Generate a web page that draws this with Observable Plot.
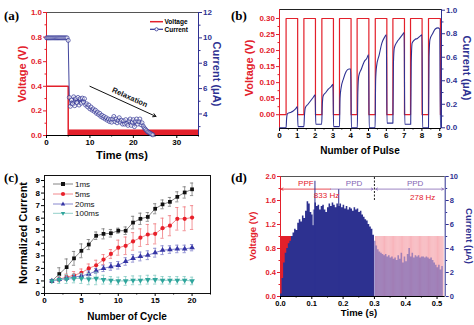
<!DOCTYPE html>
<html><head><meta charset="utf-8">
<script src="https://cdn.jsdelivr.net/npm/d3@7"></script>
<script src="https://cdn.jsdelivr.net/npm/@observablehq/plot@0.6"></script>
<style>
body{margin:0;background:#fff;}
#root{position:relative;width:474px;height:325px;overflow:hidden;background:#fff;font-family:"Liberation Sans",Arial,sans-serif;}
.lbl{position:absolute;font-family:"Liberation Serif","Times New Roman",serif;font-weight:bold;font-size:13px;transform:translate(0,-50%);}
.ttl{position:absolute;font-weight:bold;font-size:11px;white-space:nowrap;transform:translate(-50%,-50%);}
.sm{font-size:10px;}
.xs{font-size:9.5px;}
.rotL{transform:translate(-50%,-50%) rotate(-90deg);}
.rotR{transform:translate(-50%,-50%) rotate(90deg);}
svg.p{position:absolute;}
</style></head><body><div id="root"></div>
<script>
// ---------------- DATA ----------------
// (a)
const aVoltTime = [0, 5, 5];
const aVolt = [0.4, 0.4, 0];
const aReadWindow = [5.1, 35];
const aReadLevel = 0.045;
const aCurrentPre = [10,10,10,10,10,10,10,10,10,10,10,10,10,10,10,10,10,10,10,10,9.8]; // t = 0..5 step 0.25
const aCurrentPost = [5.3,4.6,5.1,4.8,5.35,4.65,5.2,4.9,5.3,4.7,5.2,4.85,5.25,4.95,5.2,4.7,
  4.8,4.55,4.7,4.4,4.55,4.3,4.4,4.2,4.3,4.05,4.15,3.95,4.05,3.8,3.9,3.7,3.8,3.6,3.7,3.5,
  3.6,3.4,3.55,3.35,3.6,3.8,3.4,3.6,3.3,3.5,3.7,3.35,3.5,3.2,3.45,3.2,3.55,3.25,3.1,3.45,
  3.6,3.1,3.35,3.55,3.0,3.4,3.6,3.2,3.4,3.6,3.15,3.3,3.05,2.9,2.8,2.7,2.6,2.55,2.5,2.45,2.4,2.35]; // t = 5.25.. step 0.25
const aSampleStep = 0.25;
const aRelax = {t1: 10, v1: 0.40, t2: 25.2, v2: 0.155, tt: 19.2, vt: 0.31, label: "Relaxation"};

// (b)
const bPulseOn  = [0.37,1.37,2.38,3.37,4.36,5.38,6.37,7.36,8.37];
const bPulseOff = [1.02,2.02,3.03,4.02,5.02,6.03,7.02,8.01,9.04];
const bPulseV = 0.3;
const bOffsets = [0.37,0.40,0.45,0.6,0.75,0.9,1.0,1.04];
const bPulseCurrent = [
  [0.00,0.08,0.12,0.13,0.14,0.16,0.18,0.01],
  [0.01,0.10,0.17,0.20,0.23,0.26,0.28,0.03],
  [0.03,0.18,0.27,0.30,0.33,0.35,0.37,0.01],
  [0.01,0.25,0.33,0.42,0.48,0.50,0.50,0.00],
  [0.00,0.30,0.44,0.50,0.56,0.59,0.62,0.00],
  [0.00,0.40,0.52,0.62,0.72,0.77,0.79,0.04],
  [0.04,0.55,0.68,0.73,0.76,0.79,0.81,0.03],
  [0.03,0.55,0.72,0.75,0.76,0.78,0.79,0.00],
  [0.00,0.60,0.75,0.80,0.84,0.85,0.84,0.00]];

// (c)
const cycles = [1,2,3,4,5,6,7,8,9,10,11,12,13,14,15,16,17,18,19,20];
const c1ms   = [1.0,1.55,2.1,2.8,3.4,3.9,4.6,4.75,4.8,5.0,5.0,5.65,5.95,6.1,6.75,7.1,7.3,7.7,8.05,8.3];
const c1msE  = [0,0.5,0.65,0.55,0.55,0.4,0.3,0.4,0.3,0.2,0.3,0.5,0.45,0.35,0.4,0.35,0.35,0.4,0.45,0.5];
const c5ms   = [1.0,1.15,1.3,1.45,1.65,2.0,2.25,2.7,3.15,3.65,3.8,4.15,4.45,4.7,4.75,5.2,5.4,5.95,5.95,6.05];
const c5msE  = [0,0.2,0.25,0.3,0.3,0.35,0.4,0.4,0.35,0.6,0.7,0.7,0.7,0.8,0.8,0.8,0.8,0.9,0.95,0.95];
const c20ms  = [1.0,1.12,1.2,1.3,1.4,1.55,1.8,2.0,2.15,2.25,2.55,2.8,2.95,3.05,3.25,3.45,3.5,3.55,3.55,3.65];
const c20msE = [0,0.1,0.15,0.2,0.2,0.25,0.2,0.25,0.3,0.3,0.3,0.3,0.35,0.35,0.35,0.35,0.3,0.3,0.3,0.25];
const c100ms = [1.0,1.1,1.15,1.2,1.2,1.15,1.2,1.1,1.05,1.0,1.0,1.05,1.05,1.1,1.1,1.05,1.05,1.05,1.05,1.0];
const c100msE= [0,0.3,0.35,0.35,0.4,0.45,0.5,0.35,0.3,0.3,0.35,0.35,0.35,0.35,0.35,0.3,0.3,0.3,0.3,0.3];
const cNames = ["1ms","5ms","20ms","100ms"];

// (d)
const dEnvStep = 0.005; // dense PPF/PPD train envelope, t = 0 .. 0.30
const dEnvCurrent = [0.2,1.5,2.8,3.6,4.0,4.4,4.6,5.0,5.3,5.6,5.5,6.1,6.4,6.2,6.7,6.5,7.1,7.9,7.7,7.0,
  6.8,7.2,7.8,7.5,7.6,7.2,7.5,7.6,7.2,7.0,7.4,7.7,7.5,7.8,7.6,7.4,7.7,7.5,7.7,7.4,
  7.6,7.3,7.5,7.2,7.4,7.3,7.1,7.4,7.2,7.3,7.0,7.1,6.8,6.6,6.4,6.3,6.0,5.8,5.6,5.1,4.0];
const dSlowStart = 0.300; // 278 Hz train envelope, t = 0.300 .. 0.520
const dSlowCurrent = [4.6,4.2,3.9,3.7,3.6,3.5,3.4,3.5,3.3,3.4,3.2,3.3,3.1,3.2,3.0,3.4,3.1,3.6,2.8,3.3,
  2.9,3.5,4.0,3.3,3.6,3.2,3.4,3.3,3.4,3.2,3.3,3.3,3.2,3.3,3.2,3.1,3.2,3.0,2.8,2.6,2.4,2.6,2.2,2.5,2.3];
const dFastEnd = 0.3, dVpulse = 1.0;
const dFreqSlow = 278, dSlowFirst = 0.3035, dSlowLast = 0.52;
const dSpikes = [{t:0.110, i:9.6},{t:0.186, i:8.9}];
const dGap = {t:0.104, i1:5.9, i2:7.9};
const dNotes = [
  {t:0.081, v:1.89, s:"PPF", c:"red"}, {t:0.235, v:1.89, s:"PPD", c:"purple"},
  {t:0.43, v:1.89, s:"PPD", c:"purple"}, {t:0.147, v:1.68, s:"833 Hz", c:"red"},
  {t:0.454, v:1.65, s:"278 Hz", c:"red"}];
const dArrowV = 1.79;

// ---------------- STYLE / HELPERS ----------------
const RED = "#e3202b", NAVY = "#2e3192", PURPLE = "#8466b4", DBLUE = "#2d3190";
const root = document.getElementById("root");
function add(svg, left, top){ svg.classList.add("p"); svg.style.left = left+"px"; svg.style.top = top+"px"; root.appendChild(svg); }
function txt(s, x, y, cls, color){ const d = document.createElement("div"); d.className = cls; d.textContent = s; d.style.left = x+"px"; d.style.top = y+"px"; d.style.color = color; root.appendChild(d); }
const base = (w,h,m,fs="8px") => ({width:w, height:h, marginLeft:m[0], marginRight:m[1], marginTop:m[2], marginBottom:m[3],
  style:{background:"none", fontFamily:"Liberation Sans, Arial, sans-serif", fontSize:fs, fontWeight:"bold", overflow:"visible"}});
const axX = (vals, fmt, color="#000", size=3) => Plot.axisX(vals, {anchor:"bottom", tickFormat: fmt, tickSize:size, tickPadding:0.8, stroke:color, fill:color, label:null});
const axY = (vals, anchor, fmt, color, size=3) => Plot.axisY(vals, {anchor, tickFormat: fmt, tickSize:size, tickPadding:1.5, stroke:color, fill:color, label:null});
const none = () => "";

// ---------------- PANEL (a) ----------------
{
  const m = [46,42,12,30], W = 240, H = 165;
  const volt = aVoltTime.map((t,i)=>({t, v:aVolt[i]}));
  const A1 = Plot.plot({...base(W,H,m), x:{domain:[0,35]}, y:{domain:[0,1]}, marks:[
    Plot.rect([{x1:aReadWindow[0], x2:aReadWindow[1], y1:0, y2:aReadLevel}], {x1:"x1",x2:"x2",y1:"y1",y2:"y2",fill:RED}),
    Plot.line(volt, {x:"t", y:"v", stroke:RED, strokeWidth:1.5}),
    Plot.ruleY([1], {stroke:"#555"}), Plot.ruleY([0], {stroke:"#000"}), Plot.ruleX([0], {stroke:RED}),
    axX([0,10,20,30], d3.format("d")), axX([5,15,25,35], none, "#000", 1.5),
    axY([0,0.2,0.4,0.6,0.8,1.0], "left", d3.format(".1f"), RED), axY([0.1,0.3,0.5,0.7,0.9], "left", none, RED, 1.5),
    Plot.arrow([aRelax], {x1:"t1", y1:"v1", x2:"t2", y2:"v2", stroke:"#111", strokeWidth:1, headLength:5}),
    Plot.text([aRelax], {x:"tt", y:"vt", text:"label", rotate:24, fontSize:7.5, fontWeight:"bold", fill:"#111"})
  ]});
  add(A1, 0, 0);
  const cur = aCurrentPre.map((c,i)=>({t:i*aSampleStep, c})).concat(aCurrentPost.map((c,i)=>({t:5.25+i*aSampleStep, c})));
  const A2 = Plot.plot({...base(W,H,m), x:{domain:[0,35], axis:null}, y:{domain:[2.3,12]}, marks:[
    Plot.line(cur, {x:"t", y:"c", stroke:NAVY, strokeWidth:0.9}),
    Plot.dot(cur, {x:"t", y:"c", r:2, stroke:NAVY, strokeWidth:0.7, fill:"white", fillOpacity:0.5}),
    Plot.ruleX([35], {stroke:NAVY}),
    axY([4,6,8,10,12], "right", d3.format("d"), NAVY), axY([3,5,7,9,11], "right", none, NAVY, 1.5)
  ]});
  add(A2, 0, 0);
  txt("(a)", 4, 16, "lbl", "#000");
  txt("Voltage (V)", 22, 74, "ttl rotL", RED);
  txt("Current (\u03bcA)", 217, 74, "ttl rotR", NAVY);
  txt("Time (ms)", 122, 155, "ttl", "#000");
  const lg = document.createElement("div");
  lg.innerHTML = `<svg width="52" height="20" style="position:absolute;left:148px;top:16px;overflow:visible">
   <line x1="2" y1="5.7" x2="15" y2="5.7" stroke="${RED}" stroke-width="1.5"/>
   <text x="16.5" y="8" font-size="6.5" font-weight="bold" font-family="Liberation Sans">Voltage</text>
   <line x1="2" y1="13.3" x2="15" y2="13.3" stroke="${NAVY}" stroke-width="1.2"/>
   <circle cx="8.5" cy="13.3" r="1.6" fill="white" stroke="${NAVY}" stroke-width="0.8"/>
   <text x="16.5" y="15.6" font-size="6.5" font-weight="bold" font-family="Liberation Sans">Current</text></svg>`;
  root.appendChild(lg);
}

// ---------------- PANEL (b) ----------------
{
  const m = [42,33,9,37], W = 237, H = 165;
  const xd = [0, 9.1];
  const volt = [{t:0, v:0}];
  bPulseOn.forEach((on,i)=>{ volt.push({t:on,v:0},{t:on,v:bPulseV},{t:bPulseOff[i],v:bPulseV},{t:bPulseOff[i],v:0}); });
  const B1 = Plot.plot({...base(W,H,m), x:{domain:xd}, y:{domain:[-0.043,0.328]}, marks:[
    Plot.line(volt, {x:"t", y:"v", stroke:RED, strokeWidth:1.2}),
    Plot.ruleY([0.328], {stroke:"#222"}), Plot.ruleY([-0.043], {stroke:"#000"}), Plot.ruleX([0], {stroke:RED}),
    axX([0,1,2,3,4,5,6,7,8,9], d3.format("d")), axX([0.5,1.5,2.5,3.5,4.5,5.5,6.5,7.5,8.5], none, "#000", 1.5),
    axY([0,0.05,0.1,0.15,0.2,0.25,0.3], "left", d3.format(".2f"), RED), axY([0.025,0.075,0.125,0.175,0.225,0.275], "left", none, RED, 1.5)
  ]});
  add(B1, 237, 0);
  const cur = [{t:0, c:0}];
  bPulseCurrent.forEach((arr,n)=> arr.forEach((c,k)=> cur.push({t:n+bOffsets[k], c})));
  cur.push({t:9.1, c:0});
  const B2 = Plot.plot({...base(W,H,m), x:{domain:xd, axis:null}, y:{domain:[-0.006,1.006]}, marks:[
    Plot.line(cur, {x:"t", y:"c", stroke:NAVY, strokeWidth:1.1, curve:"monotone-x"}),
    Plot.ruleX([9.1], {stroke:NAVY}),
    axY([0,0.2,0.4,0.6,0.8,1.0], "right", d3.format(".1f"), NAVY), axY([0.1,0.3,0.5,0.7,0.9], "right", none, NAVY, 1.5)
  ]});
  add(B2, 237, 0);
  txt("(b)", 231, 16, "lbl", "#000");
  txt("Voltage (V)", 249, 68, "ttl rotL", RED);
  txt("Current (\u03bcA)", 467, 68, "ttl rotR", NAVY);
  txt("Number of Pulse", 360, 150, "ttl sm", "#000");
}

// ---------------- PANEL (c) ----------------
const triDown = {draw(ctx, size){ const y = Math.sqrt(size/(3*Math.sqrt(3))); ctx.moveTo(0, 2*y); ctx.lineTo(-Math.sqrt(3)*y, -y); ctx.lineTo(Math.sqrt(3)*y, -y); ctx.closePath(); }};
{
  const m = [44,27,13,32], W = 237, H = 163;
  const series = [
    {vals:c1ms, err:c1msE, dot:"#111", line:"#777", sym:"square"},
    {vals:c5ms, err:c5msE, dot:"#e8202a", line:"#f07a7f", sym:"circle"},
    {vals:c20ms, err:c20msE, dot:"#3535a5", line:"#7b7bc8", sym:"triangle"},
    {vals:c100ms, err:c100msE, dot:"#2fa59c", line:"#86cbc4", sym:triDown}];
  const marks = [];
  series.forEach(s=>{
    const d = cycles.map((x,i)=>({x, y:s.vals[i], lo:s.vals[i]-s.err[i], hi:s.vals[i]+s.err[i]}));
    marks.push(Plot.ruleX(d.filter(p=>p.hi>p.lo), {x:"x", y1:"lo", y2:"hi", stroke:s.line, strokeWidth:0.8}));
    marks.push(Plot.ruleY(d.filter(p=>p.hi>p.lo), {x1:p=>p.x-0.22, x2:p=>p.x+0.22, y:"hi", stroke:s.line, strokeWidth:0.8}));
    marks.push(Plot.ruleY(d.filter(p=>p.hi>p.lo), {x1:p=>p.x-0.22, x2:p=>p.x+0.22, y:"lo", stroke:s.line, strokeWidth:0.8}));
    marks.push(Plot.line(d, {x:"x", y:"y", stroke:s.line, strokeWidth:0.9}));
    marks.push(Plot.dot(d, {x:"x", y:"y", symbol:s.sym, r:2.1, fill:s.dot, stroke:"none"}));
  });
  const C = Plot.plot({...base(W,H,m), x:{domain:[0,22.5]}, y:{domain:[0,9.4]}, marks:[
    ...marks,
    Plot.frame({stroke:"#111"}),
    axX([0,5,10,15,20], d3.format("d")), axX([2.5,7.5,12.5,17.5,22.5], none, "#000", 1.5),
    axY([0,1,2,3,4,5,6,7,8,9], "left", d3.format("d"), "#000"), axY([0.5,1.5,2.5,3.5,4.5,5.5,6.5,7.5,8.5], "left", none, "#000", 1.5)
  ]});
  add(C, 0, 162);
  txt("(c)", 4, 178, "lbl", "#000");
  txt("Normalized Current", 23, 233, "ttl rotL", "#000");
  txt("Number of Cycle", 127, 316, "ttl sm", "#000");
  const lg = document.createElement("div");
  const rows = [184,194,204,213.3];
  const sym = (k,cx,cy,c)=> k===0 ? `<rect x="${cx-2}" y="${cy-2}" width="4" height="4" fill="${c}"/>` :
      k===1 ? `<circle cx="${cx}" cy="${cy}" r="2.1" fill="${c}"/>` :
      k===2 ? `<path d="M${cx},${cy-2.4}L${cx+2.2},${cy+1.4}L${cx-2.2},${cy+1.4}Z" fill="${c}"/>` :
              `<path d="M${cx},${cy+2.4}L${cx+2.2},${cy-1.4}L${cx-2.2},${cy-1.4}Z" fill="${c}"/>`;
  let s = `<svg width="60" height="40" style="position:absolute;left:52px;top:178px;overflow:visible">`;
  rows.forEach((y,k)=>{ const yy = y-178; s += `<line x1="1" y1="${yy}" x2="21" y2="${yy}" stroke="${series[k].line}" stroke-width="0.9"/>` + sym(k,11,yy,series[k].dot) +
     `<text x="23" y="${yy+2.8}" font-size="8" font-family="Liberation Sans" fill="#111">${cNames[k]}</text>`; });
  s += `</svg>`;
  lg.innerHTML = s; root.appendChild(lg);
}

// ---------------- PANEL (d) ----------------
{
  const m = [43,29.3,14,29], W = 237, H = 163;
  const xd = [0, 0.526];
  const slowPulses = d3.range(dSlowFirst, dSlowLast, 1/dFreqSlow).map(t=>({t, v:dVpulse}));
  const colorOf = c => c==="red" ? RED : PURPLE;
  const D1 = Plot.plot({...base(W,H,m,"7.5px"), x:{domain:xd}, y:{domain:[0,2]}, marks:[
    Plot.rect([{x1:0, x2:dFastEnd, y1:0, y2:dVpulse}], {x1:"x1",x2:"x2",y1:"y1",y2:"y2",fill:RED}),
    Plot.ruleX(slowPulses, {x:"t", y1:0, y2:"v", stroke:"#ec5060", strokeOpacity:0.75, strokeWidth:0.6}),
    Plot.ruleX([dFastEnd], {y1:1.6, y2:2.0, stroke:"#222", strokeDasharray:"2,1.5"}),
    Plot.arrow([{a:0.16, b:0.002}], {x1:"a", x2:"b", y1:dArrowV, y2:dArrowV, stroke:RED, strokeWidth:0.8, headLength:4}),
    Plot.arrow([{a:0.16, b:0.296}], {x1:"a", x2:"b", y1:dArrowV, y2:dArrowV, stroke:PURPLE, strokeWidth:0.8, headLength:4}),
    Plot.arrow([{a:0.41, b:0.304}], {x1:"a", x2:"b", y1:dArrowV, y2:dArrowV, stroke:PURPLE, strokeWidth:0.8, headLength:4}),
    Plot.arrow([{a:0.41, b:0.521}], {x1:"a", x2:"b", y1:dArrowV, y2:dArrowV, stroke:PURPLE, strokeWidth:0.8, headLength:4}),
    Plot.ruleY([2], {stroke:"#555"}), Plot.ruleY([0], {stroke:"#000"}), Plot.ruleX([0], {stroke:RED}),
    axX([0,0.1,0.2,0.3,0.4,0.5], d3.format(".1f")), axX([0.05,0.15,0.25,0.35,0.45], none, "#000", 1.5),
    axY([0,0.4,0.8,1.2,1.6,2.0], "left", d3.format(".1f"), RED), axY([0.2,0.6,1.0,1.4,1.8], "left", none, RED, 1.5)
  ]});
  add(D1, 237, 162);
  const env = dEnvCurrent.map((c,i)=>({t:i*dEnvStep, c}));
  const slow = dSlowCurrent.map((c,i)=>({t:dSlowStart+i*dEnvStep, c}));
  const D2 = Plot.plot({...base(W,H,m,"7.5px"), x:{domain:xd, axis:null}, y:{domain:[0,10]}, marks:[
    Plot.areaY(slow, {x:"t", y:"c", curve:"step-after", fill:"#5a50b0", fillOpacity:0.55}),
    Plot.areaY(env, {x:"t", y:"c", curve:"step-after", fill:DBLUE}),
    Plot.ruleX(dSpikes, {x:"t", y1:0, y2:"i", stroke:DBLUE, strokeWidth:1}),
    Plot.ruleX([dGap], {x:"t", y1:"i1", y2:"i2", stroke:"white", strokeWidth:0.8}),
    Plot.text(dNotes, {x:"t", y:d=>d.v*5, text:"s", fill:d=>colorOf(d.c), fontSize:8, fontWeight:"normal"}),
    Plot.ruleX([0.526], {stroke:NAVY}),
    axY([0,2,4,6,8,10], "right", d3.format("d"), NAVY), axY([1,3,5,7,9], "right", none, NAVY, 1.5)
  ]});
  add(D2, 237, 162);
  txt("(d)", 231, 178, "lbl", "#000");
  txt("Voltage (V)", 252, 236, "ttl rotL xs", RED);
  txt("Current (\u03bcA)", 469, 236, "ttl rotR xs", NAVY);
  txt("Time (s)", 359, 312, "ttl xs", "#000");
}
</script></body></html>
